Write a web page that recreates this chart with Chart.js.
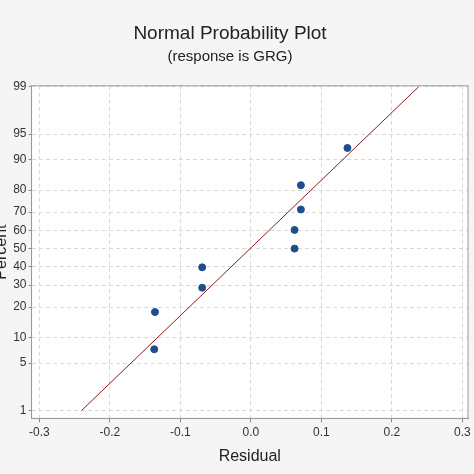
<!DOCTYPE html>
<html><head><meta charset="utf-8">
<script src="https://cdn.jsdelivr.net/npm/chart.js@4/dist/chart.umd.min.js"></script>
<style>html,body{margin:0;padding:0;background:#f5f5f5;}#w{position:relative;width:474px;height:474px;}</style>
</head><body><div id="w"><canvas id="c" width="474" height="474"></canvas></div>
<script>
const residuals = [-0.137, -0.136, -0.069, -0.069, 0.062, 0.062, 0.071, 0.071, 0.137];
const percents  = [7.4, 18.1, 28.7, 39.4, 50, 60.6, 71.3, 81.9, 92.6];
const fitResiduals = [-0.240, 0.238];
const fitPercents  = [1, 99];
const yTickPercents = [1, 5, 10, 20, 30, 40, 50, 60, 70, 80, 90, 95, 99];
const xTicks = [-0.3, -0.2, -0.1, 0.0, 0.1, 0.2, 0.3];

function probit(p){
  const a=[-39.69683028665376,220.9460984245205,-275.9285104469687,138.3577518672690,-30.66479806614716,2.506628277459239];
  const b=[-54.47609879822406,161.5858368580409,-155.6989798598866,66.80131188771972,-13.28068155288572];
  const c=[-0.007784894002430293,-0.3223964580411365,-2.400758277161838,-2.549732539343734,4.374664141464968,2.938163982698783];
  const d=[0.007784695709041462,0.3224671290700398,2.445134137142996,3.754408661907416];
  const pl=0.02425;let q,r;
  if(p<pl){q=Math.sqrt(-2*Math.log(p));return (((((c[0]*q+c[1])*q+c[2])*q+c[3])*q+c[4])*q+c[5])/((((d[0]*q+d[1])*q+d[2])*q+d[3])*q+1);}
  if(p>1-pl){q=Math.sqrt(-2*Math.log(1-p));return -(((((c[0]*q+c[1])*q+c[2])*q+c[3])*q+c[4])*q+c[5])/((((d[0]*q+d[1])*q+d[2])*q+d[3])*q+1);}
  q=p-0.5;r=q*q;return (((((a[0]*r+a[1])*r+a[2])*r+a[3])*r+a[4])*r+a[5])*q/(((((b[0]*r+b[1])*r+b[2])*r+b[3])*r+b[4])*r+1);
}
const z = p => probit(p/100);

new Chart(document.getElementById('c'), {
  type:'scatter',
  data:{datasets:[
    {data:residuals.map((x,i)=>({x, y:z(percents[i])})), backgroundColor:'#1f4e8c', borderColor:'#1f4e8c', pointRadius:3.5, pointStyle:'circle'},
    {type:'line', data:fitResiduals.map((x,i)=>({x, y:z(fitPercents[i])})), borderColor:'#8b1a1a', borderWidth:1, pointRadius:0}
  ]},
  options:{
    responsive:false, animation:false,
    layout:{padding:{left:-8,right:6,top:0,bottom:4}},
    plugins:{legend:{display:false},tooltip:{enabled:false},
      title:{display:true,text:'Normal Probability Plot',font:{family:'Liberation Sans Narrow, Liberation Sans',size:19,weight:'normal'},color:'#222',padding:{top:22,bottom:3}},
      subtitle:{display:true,text:'(response is GRG)',font:{family:'Liberation Sans Narrow, Liberation Sans',size:15},color:'#222',padding:{bottom:20}}},
    scales:{
      x:{type:'linear',min:-0.311,max:0.308,
        afterBuildTicks:s=>{s.ticks=xTicks.map(v=>({value:v}));},
        ticks:{callback:v=>v===0?'0.0':String(v),font:{family:'Liberation Sans Narrow, Liberation Sans',size:12},color:'#333'},
        grid:{color:'#d8d8d8',drawTicks:true,tickLength:4,tickColor:'#888'},
        border:{color:'#999',dash:[4,3]},
        title:{display:true,text:'Residual',font:{family:'Liberation Sans Narrow, Liberation Sans',size:16},color:'#222',padding:{top:4}}},
      y:{type:'linear',min:-2.44,max:2.34,
        afterBuildTicks:s=>{s.ticks=yTickPercents.map(p=>({value:z(p)}));},
        ticks:{callback:(v,i)=>String(yTickPercents[i]),font:{family:'Liberation Sans Narrow, Liberation Sans',size:12},color:'#333',padding:2},
        grid:{color:'#d8d8d8',tickLength:3,tickColor:'#888'},
        border:{color:'#999',dash:[4,3]},
        title:{display:true,text:'Percent',font:{family:'Liberation Sans Narrow, Liberation Sans',size:16},color:'#222',padding:{top:0,bottom:0}}}
    }
  },
  plugins:[{id:'bg',beforeDraw(ch){const a=ch.chartArea,x=ch.ctx;x.save();x.fillStyle='#fff';x.fillRect(a.left,a.top,a.width,a.height);x.restore();},
    afterDraw(ch){const a=ch.chartArea,x=ch.ctx;x.save();x.strokeStyle='#999';x.strokeRect(a.left,a.top,a.width,a.height);x.restore();}}]
});
</script></body></html>
